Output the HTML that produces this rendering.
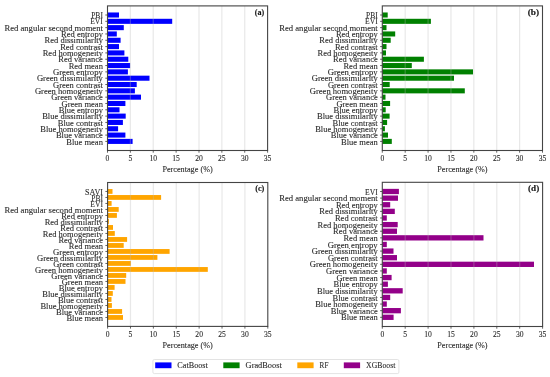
<!DOCTYPE html>
<html><head><meta charset="utf-8"><style>
html,body{margin:0;padding:0;background:#fff;}
svg{display:block;will-change:transform;}
text{font-family:"Liberation Serif",serif;fill:#2a2a2a;stroke:#2a2a2a;stroke-width:0.1px;}
.yl{font-size:8.5px;text-anchor:end;}
.xl{font-size:7.6px;text-anchor:middle;}
.xt{font-size:8.2px;text-anchor:middle;}
.tag{font-size:8.2px;font-weight:bold;text-anchor:end;fill:#111;stroke:#111;}
.lg{font-size:8.2px;}
</style></head><body>
<svg width="550" height="377" viewBox="0 0 550 377">
<rect width="550" height="377" fill="#fff"/>
<rect x="107.50" y="12.47" width="11.50" height="5.06" fill="#0000ff"/>
<rect x="107.50" y="18.79" width="64.70" height="5.06" fill="#0000ff"/>
<rect x="107.50" y="25.11" width="16.30" height="5.06" fill="#0000ff"/>
<rect x="107.50" y="31.43" width="9.30" height="5.06" fill="#0000ff"/>
<rect x="107.50" y="37.75" width="13.10" height="5.06" fill="#0000ff"/>
<rect x="107.50" y="44.07" width="11.50" height="5.06" fill="#0000ff"/>
<rect x="107.50" y="50.39" width="16.90" height="5.06" fill="#0000ff"/>
<rect x="107.50" y="56.71" width="20.80" height="5.06" fill="#0000ff"/>
<rect x="107.50" y="63.03" width="22.60" height="5.06" fill="#0000ff"/>
<rect x="107.50" y="69.35" width="20.40" height="5.06" fill="#0000ff"/>
<rect x="107.50" y="75.67" width="42.00" height="5.06" fill="#0000ff"/>
<rect x="107.50" y="81.99" width="29.20" height="5.06" fill="#0000ff"/>
<rect x="107.50" y="88.31" width="27.40" height="5.06" fill="#0000ff"/>
<rect x="107.50" y="94.63" width="33.50" height="5.06" fill="#0000ff"/>
<rect x="107.50" y="100.95" width="17.90" height="5.06" fill="#0000ff"/>
<rect x="107.50" y="107.27" width="12.00" height="5.06" fill="#0000ff"/>
<rect x="107.50" y="113.59" width="18.20" height="5.06" fill="#0000ff"/>
<rect x="107.50" y="119.91" width="15.40" height="5.06" fill="#0000ff"/>
<rect x="107.50" y="126.23" width="10.60" height="5.06" fill="#0000ff"/>
<rect x="107.50" y="132.55" width="17.90" height="5.06" fill="#0000ff"/>
<rect x="107.50" y="138.87" width="25.10" height="5.06" fill="#0000ff"/>
<line x1="130.37" y1="5.90" x2="130.37" y2="150.50" stroke="#b8b8b8" stroke-opacity="0.32" stroke-width="1.2"/>
<line x1="153.24" y1="5.90" x2="153.24" y2="150.50" stroke="#b8b8b8" stroke-opacity="0.32" stroke-width="1.2"/>
<line x1="176.11" y1="5.90" x2="176.11" y2="150.50" stroke="#b8b8b8" stroke-opacity="0.32" stroke-width="1.2"/>
<line x1="198.99" y1="5.90" x2="198.99" y2="150.50" stroke="#b8b8b8" stroke-opacity="0.32" stroke-width="1.2"/>
<line x1="221.86" y1="5.90" x2="221.86" y2="150.50" stroke="#b8b8b8" stroke-opacity="0.32" stroke-width="1.2"/>
<line x1="244.73" y1="5.90" x2="244.73" y2="150.50" stroke="#b8b8b8" stroke-opacity="0.32" stroke-width="1.2"/>
<rect x="107.50" y="5.90" width="160.10" height="144.60" fill="none" stroke="#444" stroke-width="1.1"/>
<line x1="105.30" y1="15.00" x2="107.50" y2="15.00" stroke="#3a3a3a" stroke-width="0.8"/>
<text x="102.90" y="18.10" class="yl" textLength="11.7" lengthAdjust="spacingAndGlyphs">PBI</text>
<line x1="105.30" y1="21.32" x2="107.50" y2="21.32" stroke="#3a3a3a" stroke-width="0.8"/>
<text x="102.90" y="24.42" class="yl" textLength="12.7" lengthAdjust="spacingAndGlyphs">EVI</text>
<line x1="105.30" y1="27.64" x2="107.50" y2="27.64" stroke="#3a3a3a" stroke-width="0.8"/>
<text x="102.90" y="30.74" class="yl" textLength="98.5" lengthAdjust="spacingAndGlyphs">Red angular second moment</text>
<line x1="105.30" y1="33.96" x2="107.50" y2="33.96" stroke="#3a3a3a" stroke-width="0.8"/>
<text x="102.90" y="37.06" class="yl">Red entropy</text>
<line x1="105.30" y1="40.28" x2="107.50" y2="40.28" stroke="#3a3a3a" stroke-width="0.8"/>
<text x="102.90" y="43.38" class="yl">Red dissimilarity</text>
<line x1="105.30" y1="46.60" x2="107.50" y2="46.60" stroke="#3a3a3a" stroke-width="0.8"/>
<text x="102.90" y="49.70" class="yl">Red contrast</text>
<line x1="105.30" y1="52.92" x2="107.50" y2="52.92" stroke="#3a3a3a" stroke-width="0.8"/>
<text x="102.90" y="56.02" class="yl">Red homogeneity</text>
<line x1="105.30" y1="59.24" x2="107.50" y2="59.24" stroke="#3a3a3a" stroke-width="0.8"/>
<text x="102.90" y="62.34" class="yl">Red variance</text>
<line x1="105.30" y1="65.56" x2="107.50" y2="65.56" stroke="#3a3a3a" stroke-width="0.8"/>
<text x="102.90" y="68.66" class="yl">Red mean</text>
<line x1="105.30" y1="71.88" x2="107.50" y2="71.88" stroke="#3a3a3a" stroke-width="0.8"/>
<text x="102.90" y="74.98" class="yl" textLength="50.0" lengthAdjust="spacingAndGlyphs">Green entropy</text>
<line x1="105.30" y1="78.20" x2="107.50" y2="78.20" stroke="#3a3a3a" stroke-width="0.8"/>
<text x="102.90" y="81.30" class="yl" textLength="66.0" lengthAdjust="spacingAndGlyphs">Green dissimilarity</text>
<line x1="105.30" y1="84.52" x2="107.50" y2="84.52" stroke="#3a3a3a" stroke-width="0.8"/>
<text x="102.90" y="87.62" class="yl">Green contrast</text>
<line x1="105.30" y1="90.84" x2="107.50" y2="90.84" stroke="#3a3a3a" stroke-width="0.8"/>
<text x="102.90" y="93.94" class="yl" textLength="68.0" lengthAdjust="spacingAndGlyphs">Green homogeneity</text>
<line x1="105.30" y1="97.16" x2="107.50" y2="97.16" stroke="#3a3a3a" stroke-width="0.8"/>
<text x="102.90" y="100.26" class="yl">Green variance</text>
<line x1="105.30" y1="103.48" x2="107.50" y2="103.48" stroke="#3a3a3a" stroke-width="0.8"/>
<text x="102.90" y="106.58" class="yl">Green mean</text>
<line x1="105.30" y1="109.80" x2="107.50" y2="109.80" stroke="#3a3a3a" stroke-width="0.8"/>
<text x="102.90" y="112.90" class="yl">Blue entropy</text>
<line x1="105.30" y1="116.12" x2="107.50" y2="116.12" stroke="#3a3a3a" stroke-width="0.8"/>
<text x="102.90" y="119.22" class="yl">Blue dissimilarity</text>
<line x1="105.30" y1="122.44" x2="107.50" y2="122.44" stroke="#3a3a3a" stroke-width="0.8"/>
<text x="102.90" y="125.54" class="yl">Blue contrast</text>
<line x1="105.30" y1="128.76" x2="107.50" y2="128.76" stroke="#3a3a3a" stroke-width="0.8"/>
<text x="102.90" y="131.86" class="yl">Blue homogeneity</text>
<line x1="105.30" y1="135.08" x2="107.50" y2="135.08" stroke="#3a3a3a" stroke-width="0.8"/>
<text x="102.90" y="138.18" class="yl">Blue variance</text>
<line x1="105.30" y1="141.40" x2="107.50" y2="141.40" stroke="#3a3a3a" stroke-width="0.8"/>
<text x="102.90" y="144.50" class="yl">Blue mean</text>
<line x1="107.50" y1="150.50" x2="107.50" y2="152.70" stroke="#3a3a3a" stroke-width="0.8"/>
<text x="107.50" y="161.10" class="xl">0</text>
<line x1="130.37" y1="150.50" x2="130.37" y2="152.70" stroke="#3a3a3a" stroke-width="0.8"/>
<text x="130.37" y="161.10" class="xl">5</text>
<line x1="153.24" y1="150.50" x2="153.24" y2="152.70" stroke="#3a3a3a" stroke-width="0.8"/>
<text x="153.24" y="161.10" class="xl">10</text>
<line x1="176.11" y1="150.50" x2="176.11" y2="152.70" stroke="#3a3a3a" stroke-width="0.8"/>
<text x="176.11" y="161.10" class="xl">15</text>
<line x1="198.99" y1="150.50" x2="198.99" y2="152.70" stroke="#3a3a3a" stroke-width="0.8"/>
<text x="198.99" y="161.10" class="xl">20</text>
<line x1="221.86" y1="150.50" x2="221.86" y2="152.70" stroke="#3a3a3a" stroke-width="0.8"/>
<text x="221.86" y="161.10" class="xl">25</text>
<line x1="244.73" y1="150.50" x2="244.73" y2="152.70" stroke="#3a3a3a" stroke-width="0.8"/>
<text x="244.73" y="161.10" class="xl">30</text>
<line x1="267.60" y1="150.50" x2="267.60" y2="152.70" stroke="#3a3a3a" stroke-width="0.8"/>
<text x="267.60" y="161.10" class="xl">35</text>
<text x="187.55" y="172.10" class="xt" textLength="50.3" lengthAdjust="spacingAndGlyphs">Percentage (%)</text>
<text x="264.20" y="14.50" class="tag" textLength="9.4" lengthAdjust="spacingAndGlyphs">(a)</text>
<rect x="382.30" y="12.47" width="5.40" height="5.06" fill="#008000"/>
<rect x="382.30" y="18.79" width="48.60" height="5.06" fill="#008000"/>
<rect x="382.30" y="25.11" width="4.20" height="5.06" fill="#008000"/>
<rect x="382.30" y="31.43" width="12.90" height="5.06" fill="#008000"/>
<rect x="382.30" y="37.75" width="8.40" height="5.06" fill="#008000"/>
<rect x="382.30" y="44.07" width="4.20" height="5.06" fill="#008000"/>
<rect x="382.30" y="50.39" width="3.70" height="5.06" fill="#008000"/>
<rect x="382.30" y="56.71" width="41.60" height="5.06" fill="#008000"/>
<rect x="382.30" y="63.03" width="29.50" height="5.06" fill="#008000"/>
<rect x="382.30" y="69.35" width="90.70" height="5.06" fill="#008000"/>
<rect x="382.30" y="75.67" width="71.70" height="5.06" fill="#008000"/>
<rect x="382.30" y="81.99" width="7.40" height="5.06" fill="#008000"/>
<rect x="382.30" y="88.31" width="82.50" height="5.06" fill="#008000"/>
<rect x="382.30" y="94.63" width="3.20" height="5.06" fill="#008000"/>
<rect x="382.30" y="100.95" width="7.80" height="5.06" fill="#008000"/>
<rect x="382.30" y="107.27" width="3.40" height="5.06" fill="#008000"/>
<rect x="382.30" y="113.59" width="7.30" height="5.06" fill="#008000"/>
<rect x="382.30" y="119.91" width="4.80" height="5.06" fill="#008000"/>
<rect x="382.30" y="126.23" width="2.60" height="5.06" fill="#008000"/>
<rect x="382.30" y="132.55" width="5.70" height="5.06" fill="#008000"/>
<rect x="382.30" y="138.87" width="9.50" height="5.06" fill="#008000"/>
<line x1="405.19" y1="5.90" x2="405.19" y2="150.50" stroke="#b8b8b8" stroke-opacity="0.32" stroke-width="1.2"/>
<line x1="428.07" y1="5.90" x2="428.07" y2="150.50" stroke="#b8b8b8" stroke-opacity="0.32" stroke-width="1.2"/>
<line x1="450.96" y1="5.90" x2="450.96" y2="150.50" stroke="#b8b8b8" stroke-opacity="0.32" stroke-width="1.2"/>
<line x1="473.84" y1="5.90" x2="473.84" y2="150.50" stroke="#b8b8b8" stroke-opacity="0.32" stroke-width="1.2"/>
<line x1="496.73" y1="5.90" x2="496.73" y2="150.50" stroke="#b8b8b8" stroke-opacity="0.32" stroke-width="1.2"/>
<line x1="519.61" y1="5.90" x2="519.61" y2="150.50" stroke="#b8b8b8" stroke-opacity="0.32" stroke-width="1.2"/>
<rect x="382.30" y="5.90" width="160.20" height="144.60" fill="none" stroke="#444" stroke-width="1.1"/>
<line x1="380.10" y1="15.00" x2="382.30" y2="15.00" stroke="#3a3a3a" stroke-width="0.8"/>
<text x="377.70" y="18.10" class="yl" textLength="11.7" lengthAdjust="spacingAndGlyphs">PBI</text>
<line x1="380.10" y1="21.32" x2="382.30" y2="21.32" stroke="#3a3a3a" stroke-width="0.8"/>
<text x="377.70" y="24.42" class="yl" textLength="12.7" lengthAdjust="spacingAndGlyphs">EVI</text>
<line x1="380.10" y1="27.64" x2="382.30" y2="27.64" stroke="#3a3a3a" stroke-width="0.8"/>
<text x="377.70" y="30.74" class="yl" textLength="98.5" lengthAdjust="spacingAndGlyphs">Red angular second moment</text>
<line x1="380.10" y1="33.96" x2="382.30" y2="33.96" stroke="#3a3a3a" stroke-width="0.8"/>
<text x="377.70" y="37.06" class="yl">Red entropy</text>
<line x1="380.10" y1="40.28" x2="382.30" y2="40.28" stroke="#3a3a3a" stroke-width="0.8"/>
<text x="377.70" y="43.38" class="yl">Red dissimilarity</text>
<line x1="380.10" y1="46.60" x2="382.30" y2="46.60" stroke="#3a3a3a" stroke-width="0.8"/>
<text x="377.70" y="49.70" class="yl">Red contrast</text>
<line x1="380.10" y1="52.92" x2="382.30" y2="52.92" stroke="#3a3a3a" stroke-width="0.8"/>
<text x="377.70" y="56.02" class="yl">Red homogeneity</text>
<line x1="380.10" y1="59.24" x2="382.30" y2="59.24" stroke="#3a3a3a" stroke-width="0.8"/>
<text x="377.70" y="62.34" class="yl">Red variance</text>
<line x1="380.10" y1="65.56" x2="382.30" y2="65.56" stroke="#3a3a3a" stroke-width="0.8"/>
<text x="377.70" y="68.66" class="yl">Red mean</text>
<line x1="380.10" y1="71.88" x2="382.30" y2="71.88" stroke="#3a3a3a" stroke-width="0.8"/>
<text x="377.70" y="74.98" class="yl" textLength="50.0" lengthAdjust="spacingAndGlyphs">Green entropy</text>
<line x1="380.10" y1="78.20" x2="382.30" y2="78.20" stroke="#3a3a3a" stroke-width="0.8"/>
<text x="377.70" y="81.30" class="yl" textLength="66.0" lengthAdjust="spacingAndGlyphs">Green dissimilarity</text>
<line x1="380.10" y1="84.52" x2="382.30" y2="84.52" stroke="#3a3a3a" stroke-width="0.8"/>
<text x="377.70" y="87.62" class="yl">Green contrast</text>
<line x1="380.10" y1="90.84" x2="382.30" y2="90.84" stroke="#3a3a3a" stroke-width="0.8"/>
<text x="377.70" y="93.94" class="yl" textLength="68.0" lengthAdjust="spacingAndGlyphs">Green homogeneity</text>
<line x1="380.10" y1="97.16" x2="382.30" y2="97.16" stroke="#3a3a3a" stroke-width="0.8"/>
<text x="377.70" y="100.26" class="yl">Green variance</text>
<line x1="380.10" y1="103.48" x2="382.30" y2="103.48" stroke="#3a3a3a" stroke-width="0.8"/>
<text x="377.70" y="106.58" class="yl">Green mean</text>
<line x1="380.10" y1="109.80" x2="382.30" y2="109.80" stroke="#3a3a3a" stroke-width="0.8"/>
<text x="377.70" y="112.90" class="yl">Blue entropy</text>
<line x1="380.10" y1="116.12" x2="382.30" y2="116.12" stroke="#3a3a3a" stroke-width="0.8"/>
<text x="377.70" y="119.22" class="yl">Blue dissimilarity</text>
<line x1="380.10" y1="122.44" x2="382.30" y2="122.44" stroke="#3a3a3a" stroke-width="0.8"/>
<text x="377.70" y="125.54" class="yl">Blue contrast</text>
<line x1="380.10" y1="128.76" x2="382.30" y2="128.76" stroke="#3a3a3a" stroke-width="0.8"/>
<text x="377.70" y="131.86" class="yl">Blue homogeneity</text>
<line x1="380.10" y1="135.08" x2="382.30" y2="135.08" stroke="#3a3a3a" stroke-width="0.8"/>
<text x="377.70" y="138.18" class="yl">Blue variance</text>
<line x1="380.10" y1="141.40" x2="382.30" y2="141.40" stroke="#3a3a3a" stroke-width="0.8"/>
<text x="377.70" y="144.50" class="yl">Blue mean</text>
<line x1="382.30" y1="150.50" x2="382.30" y2="152.70" stroke="#3a3a3a" stroke-width="0.8"/>
<text x="382.30" y="161.10" class="xl">0</text>
<line x1="405.19" y1="150.50" x2="405.19" y2="152.70" stroke="#3a3a3a" stroke-width="0.8"/>
<text x="405.19" y="161.10" class="xl">5</text>
<line x1="428.07" y1="150.50" x2="428.07" y2="152.70" stroke="#3a3a3a" stroke-width="0.8"/>
<text x="428.07" y="161.10" class="xl">10</text>
<line x1="450.96" y1="150.50" x2="450.96" y2="152.70" stroke="#3a3a3a" stroke-width="0.8"/>
<text x="450.96" y="161.10" class="xl">15</text>
<line x1="473.84" y1="150.50" x2="473.84" y2="152.70" stroke="#3a3a3a" stroke-width="0.8"/>
<text x="473.84" y="161.10" class="xl">20</text>
<line x1="496.73" y1="150.50" x2="496.73" y2="152.70" stroke="#3a3a3a" stroke-width="0.8"/>
<text x="496.73" y="161.10" class="xl">25</text>
<line x1="519.61" y1="150.50" x2="519.61" y2="152.70" stroke="#3a3a3a" stroke-width="0.8"/>
<text x="519.61" y="161.10" class="xl">30</text>
<line x1="542.50" y1="150.50" x2="542.50" y2="152.70" stroke="#3a3a3a" stroke-width="0.8"/>
<text x="542.50" y="161.10" class="xl">35</text>
<text x="462.40" y="172.10" class="xt" textLength="50.3" lengthAdjust="spacingAndGlyphs">Percentage (%)</text>
<text x="539.10" y="14.50" class="tag" textLength="11.4" lengthAdjust="spacingAndGlyphs">(b)</text>
<rect x="107.60" y="189.04" width="4.90" height="4.80" fill="#ffa500"/>
<rect x="107.60" y="195.04" width="53.50" height="4.80" fill="#ffa500"/>
<rect x="107.60" y="201.04" width="4.00" height="4.80" fill="#ffa500"/>
<rect x="107.60" y="207.04" width="11.10" height="4.80" fill="#ffa500"/>
<rect x="107.60" y="213.04" width="9.30" height="4.80" fill="#ffa500"/>
<rect x="107.60" y="219.05" width="1.30" height="4.80" fill="#ffa500"/>
<rect x="107.60" y="225.05" width="5.40" height="4.80" fill="#ffa500"/>
<rect x="107.60" y="231.05" width="7.20" height="4.80" fill="#ffa500"/>
<rect x="107.60" y="237.05" width="19.50" height="4.80" fill="#ffa500"/>
<rect x="107.60" y="243.05" width="16.10" height="4.80" fill="#ffa500"/>
<rect x="107.60" y="249.05" width="62.00" height="4.80" fill="#ffa500"/>
<rect x="107.60" y="255.05" width="49.80" height="4.80" fill="#ffa500"/>
<rect x="107.60" y="261.05" width="23.30" height="4.80" fill="#ffa500"/>
<rect x="107.60" y="267.05" width="100.20" height="4.80" fill="#ffa500"/>
<rect x="107.60" y="273.05" width="18.60" height="4.80" fill="#ffa500"/>
<rect x="107.60" y="279.05" width="17.90" height="4.80" fill="#ffa500"/>
<rect x="107.60" y="285.05" width="7.00" height="4.80" fill="#ffa500"/>
<rect x="107.60" y="291.06" width="5.20" height="4.80" fill="#ffa500"/>
<rect x="107.60" y="297.06" width="3.90" height="4.80" fill="#ffa500"/>
<rect x="107.60" y="303.06" width="4.30" height="4.80" fill="#ffa500"/>
<rect x="107.60" y="309.06" width="14.50" height="4.80" fill="#ffa500"/>
<rect x="107.60" y="315.06" width="15.40" height="4.80" fill="#ffa500"/>
<line x1="130.49" y1="182.50" x2="130.49" y2="326.40" stroke="#b8b8b8" stroke-opacity="0.32" stroke-width="1.2"/>
<line x1="153.37" y1="182.50" x2="153.37" y2="326.40" stroke="#b8b8b8" stroke-opacity="0.32" stroke-width="1.2"/>
<line x1="176.26" y1="182.50" x2="176.26" y2="326.40" stroke="#b8b8b8" stroke-opacity="0.32" stroke-width="1.2"/>
<line x1="199.14" y1="182.50" x2="199.14" y2="326.40" stroke="#b8b8b8" stroke-opacity="0.32" stroke-width="1.2"/>
<line x1="222.03" y1="182.50" x2="222.03" y2="326.40" stroke="#b8b8b8" stroke-opacity="0.32" stroke-width="1.2"/>
<line x1="244.91" y1="182.50" x2="244.91" y2="326.40" stroke="#b8b8b8" stroke-opacity="0.32" stroke-width="1.2"/>
<rect x="107.60" y="182.50" width="160.20" height="143.90" fill="none" stroke="#444" stroke-width="1.1"/>
<line x1="105.40" y1="191.44" x2="107.60" y2="191.44" stroke="#3a3a3a" stroke-width="0.8"/>
<text x="103.00" y="194.54" class="yl" textLength="18.0" lengthAdjust="spacingAndGlyphs">SAVI</text>
<line x1="105.40" y1="197.44" x2="107.60" y2="197.44" stroke="#3a3a3a" stroke-width="0.8"/>
<text x="103.00" y="200.54" class="yl" textLength="11.7" lengthAdjust="spacingAndGlyphs">PBI</text>
<line x1="105.40" y1="203.44" x2="107.60" y2="203.44" stroke="#3a3a3a" stroke-width="0.8"/>
<text x="103.00" y="206.54" class="yl" textLength="12.7" lengthAdjust="spacingAndGlyphs">EVI</text>
<line x1="105.40" y1="209.44" x2="107.60" y2="209.44" stroke="#3a3a3a" stroke-width="0.8"/>
<text x="103.00" y="212.54" class="yl" textLength="98.5" lengthAdjust="spacingAndGlyphs">Red angular second moment</text>
<line x1="105.40" y1="215.44" x2="107.60" y2="215.44" stroke="#3a3a3a" stroke-width="0.8"/>
<text x="103.00" y="218.54" class="yl">Red entropy</text>
<line x1="105.40" y1="221.45" x2="107.60" y2="221.45" stroke="#3a3a3a" stroke-width="0.8"/>
<text x="103.00" y="224.55" class="yl">Red dissimilarity</text>
<line x1="105.40" y1="227.45" x2="107.60" y2="227.45" stroke="#3a3a3a" stroke-width="0.8"/>
<text x="103.00" y="230.55" class="yl">Red contrast</text>
<line x1="105.40" y1="233.45" x2="107.60" y2="233.45" stroke="#3a3a3a" stroke-width="0.8"/>
<text x="103.00" y="236.55" class="yl">Red homogeneity</text>
<line x1="105.40" y1="239.45" x2="107.60" y2="239.45" stroke="#3a3a3a" stroke-width="0.8"/>
<text x="103.00" y="242.55" class="yl">Red variance</text>
<line x1="105.40" y1="245.45" x2="107.60" y2="245.45" stroke="#3a3a3a" stroke-width="0.8"/>
<text x="103.00" y="248.55" class="yl">Red mean</text>
<line x1="105.40" y1="251.45" x2="107.60" y2="251.45" stroke="#3a3a3a" stroke-width="0.8"/>
<text x="103.00" y="254.55" class="yl" textLength="50.0" lengthAdjust="spacingAndGlyphs">Green entropy</text>
<line x1="105.40" y1="257.45" x2="107.60" y2="257.45" stroke="#3a3a3a" stroke-width="0.8"/>
<text x="103.00" y="260.55" class="yl" textLength="66.0" lengthAdjust="spacingAndGlyphs">Green dissimilarity</text>
<line x1="105.40" y1="263.45" x2="107.60" y2="263.45" stroke="#3a3a3a" stroke-width="0.8"/>
<text x="103.00" y="266.55" class="yl">Green contrast</text>
<line x1="105.40" y1="269.45" x2="107.60" y2="269.45" stroke="#3a3a3a" stroke-width="0.8"/>
<text x="103.00" y="272.55" class="yl" textLength="68.0" lengthAdjust="spacingAndGlyphs">Green homogeneity</text>
<line x1="105.40" y1="275.45" x2="107.60" y2="275.45" stroke="#3a3a3a" stroke-width="0.8"/>
<text x="103.00" y="278.55" class="yl">Green variance</text>
<line x1="105.40" y1="281.45" x2="107.60" y2="281.45" stroke="#3a3a3a" stroke-width="0.8"/>
<text x="103.00" y="284.55" class="yl">Green mean</text>
<line x1="105.40" y1="287.45" x2="107.60" y2="287.45" stroke="#3a3a3a" stroke-width="0.8"/>
<text x="103.00" y="290.55" class="yl">Blue entropy</text>
<line x1="105.40" y1="293.46" x2="107.60" y2="293.46" stroke="#3a3a3a" stroke-width="0.8"/>
<text x="103.00" y="296.56" class="yl">Blue dissimilarity</text>
<line x1="105.40" y1="299.46" x2="107.60" y2="299.46" stroke="#3a3a3a" stroke-width="0.8"/>
<text x="103.00" y="302.56" class="yl">Blue contrast</text>
<line x1="105.40" y1="305.46" x2="107.60" y2="305.46" stroke="#3a3a3a" stroke-width="0.8"/>
<text x="103.00" y="308.56" class="yl">Blue homogeneity</text>
<line x1="105.40" y1="311.46" x2="107.60" y2="311.46" stroke="#3a3a3a" stroke-width="0.8"/>
<text x="103.00" y="314.56" class="yl">Blue variance</text>
<line x1="105.40" y1="317.46" x2="107.60" y2="317.46" stroke="#3a3a3a" stroke-width="0.8"/>
<text x="103.00" y="320.56" class="yl">Blue mean</text>
<line x1="107.60" y1="326.40" x2="107.60" y2="328.60" stroke="#3a3a3a" stroke-width="0.8"/>
<text x="107.60" y="337.00" class="xl">0</text>
<line x1="130.49" y1="326.40" x2="130.49" y2="328.60" stroke="#3a3a3a" stroke-width="0.8"/>
<text x="130.49" y="337.00" class="xl">5</text>
<line x1="153.37" y1="326.40" x2="153.37" y2="328.60" stroke="#3a3a3a" stroke-width="0.8"/>
<text x="153.37" y="337.00" class="xl">10</text>
<line x1="176.26" y1="326.40" x2="176.26" y2="328.60" stroke="#3a3a3a" stroke-width="0.8"/>
<text x="176.26" y="337.00" class="xl">15</text>
<line x1="199.14" y1="326.40" x2="199.14" y2="328.60" stroke="#3a3a3a" stroke-width="0.8"/>
<text x="199.14" y="337.00" class="xl">20</text>
<line x1="222.03" y1="326.40" x2="222.03" y2="328.60" stroke="#3a3a3a" stroke-width="0.8"/>
<text x="222.03" y="337.00" class="xl">25</text>
<line x1="244.91" y1="326.40" x2="244.91" y2="328.60" stroke="#3a3a3a" stroke-width="0.8"/>
<text x="244.91" y="337.00" class="xl">30</text>
<line x1="267.80" y1="326.40" x2="267.80" y2="328.60" stroke="#3a3a3a" stroke-width="0.8"/>
<text x="267.80" y="337.00" class="xl">35</text>
<text x="187.70" y="348.00" class="xt" textLength="50.3" lengthAdjust="spacingAndGlyphs">Percentage (%)</text>
<text x="264.40" y="191.10" class="tag" textLength="9.2" lengthAdjust="spacingAndGlyphs">(c)</text>
<rect x="382.30" y="188.85" width="16.60" height="5.30" fill="#930089"/>
<rect x="382.30" y="195.48" width="15.70" height="5.30" fill="#930089"/>
<rect x="382.30" y="202.10" width="7.90" height="5.30" fill="#930089"/>
<rect x="382.30" y="208.72" width="12.50" height="5.30" fill="#930089"/>
<rect x="382.30" y="215.34" width="4.50" height="5.30" fill="#930089"/>
<rect x="382.30" y="221.96" width="15.40" height="5.30" fill="#930089"/>
<rect x="382.30" y="228.58" width="14.70" height="5.30" fill="#930089"/>
<rect x="382.30" y="235.20" width="101.20" height="5.30" fill="#930089"/>
<rect x="382.30" y="241.82" width="4.50" height="5.30" fill="#930089"/>
<rect x="382.30" y="248.44" width="11.20" height="5.30" fill="#930089"/>
<rect x="382.30" y="255.06" width="14.70" height="5.30" fill="#930089"/>
<rect x="382.30" y="261.68" width="151.70" height="5.30" fill="#930089"/>
<rect x="382.30" y="268.30" width="4.50" height="5.30" fill="#930089"/>
<rect x="382.30" y="274.92" width="9.30" height="5.30" fill="#930089"/>
<rect x="382.30" y="281.55" width="5.60" height="5.30" fill="#930089"/>
<rect x="382.30" y="288.17" width="20.40" height="5.30" fill="#930089"/>
<rect x="382.30" y="294.79" width="7.90" height="5.30" fill="#930089"/>
<rect x="382.30" y="301.41" width="4.50" height="5.30" fill="#930089"/>
<rect x="382.30" y="308.03" width="18.60" height="5.30" fill="#930089"/>
<rect x="382.30" y="314.65" width="11.30" height="5.30" fill="#930089"/>
<line x1="405.20" y1="182.30" x2="405.20" y2="326.50" stroke="#b8b8b8" stroke-opacity="0.32" stroke-width="1.2"/>
<line x1="428.10" y1="182.30" x2="428.10" y2="326.50" stroke="#b8b8b8" stroke-opacity="0.32" stroke-width="1.2"/>
<line x1="451.00" y1="182.30" x2="451.00" y2="326.50" stroke="#b8b8b8" stroke-opacity="0.32" stroke-width="1.2"/>
<line x1="473.90" y1="182.30" x2="473.90" y2="326.50" stroke="#b8b8b8" stroke-opacity="0.32" stroke-width="1.2"/>
<line x1="496.80" y1="182.30" x2="496.80" y2="326.50" stroke="#b8b8b8" stroke-opacity="0.32" stroke-width="1.2"/>
<line x1="519.70" y1="182.30" x2="519.70" y2="326.50" stroke="#b8b8b8" stroke-opacity="0.32" stroke-width="1.2"/>
<rect x="382.30" y="182.30" width="160.30" height="144.20" fill="none" stroke="#444" stroke-width="1.1"/>
<line x1="380.10" y1="191.50" x2="382.30" y2="191.50" stroke="#3a3a3a" stroke-width="0.8"/>
<text x="377.70" y="194.60" class="yl" textLength="12.7" lengthAdjust="spacingAndGlyphs">EVI</text>
<line x1="380.10" y1="198.12" x2="382.30" y2="198.12" stroke="#3a3a3a" stroke-width="0.8"/>
<text x="377.70" y="201.22" class="yl" textLength="98.5" lengthAdjust="spacingAndGlyphs">Red angular second moment</text>
<line x1="380.10" y1="204.74" x2="382.30" y2="204.74" stroke="#3a3a3a" stroke-width="0.8"/>
<text x="377.70" y="207.84" class="yl">Red entropy</text>
<line x1="380.10" y1="211.37" x2="382.30" y2="211.37" stroke="#3a3a3a" stroke-width="0.8"/>
<text x="377.70" y="214.47" class="yl">Red dissimilarity</text>
<line x1="380.10" y1="217.99" x2="382.30" y2="217.99" stroke="#3a3a3a" stroke-width="0.8"/>
<text x="377.70" y="221.09" class="yl">Red contrast</text>
<line x1="380.10" y1="224.61" x2="382.30" y2="224.61" stroke="#3a3a3a" stroke-width="0.8"/>
<text x="377.70" y="227.71" class="yl">Red homogeneity</text>
<line x1="380.10" y1="231.23" x2="382.30" y2="231.23" stroke="#3a3a3a" stroke-width="0.8"/>
<text x="377.70" y="234.33" class="yl">Red variance</text>
<line x1="380.10" y1="237.85" x2="382.30" y2="237.85" stroke="#3a3a3a" stroke-width="0.8"/>
<text x="377.70" y="240.95" class="yl">Red mean</text>
<line x1="380.10" y1="244.47" x2="382.30" y2="244.47" stroke="#3a3a3a" stroke-width="0.8"/>
<text x="377.70" y="247.57" class="yl" textLength="50.0" lengthAdjust="spacingAndGlyphs">Green entropy</text>
<line x1="380.10" y1="251.09" x2="382.30" y2="251.09" stroke="#3a3a3a" stroke-width="0.8"/>
<text x="377.70" y="254.19" class="yl" textLength="66.0" lengthAdjust="spacingAndGlyphs">Green dissimilarity</text>
<line x1="380.10" y1="257.71" x2="382.30" y2="257.71" stroke="#3a3a3a" stroke-width="0.8"/>
<text x="377.70" y="260.81" class="yl">Green contrast</text>
<line x1="380.10" y1="264.33" x2="382.30" y2="264.33" stroke="#3a3a3a" stroke-width="0.8"/>
<text x="377.70" y="267.43" class="yl" textLength="68.0" lengthAdjust="spacingAndGlyphs">Green homogeneity</text>
<line x1="380.10" y1="270.95" x2="382.30" y2="270.95" stroke="#3a3a3a" stroke-width="0.8"/>
<text x="377.70" y="274.05" class="yl">Green variance</text>
<line x1="380.10" y1="277.57" x2="382.30" y2="277.57" stroke="#3a3a3a" stroke-width="0.8"/>
<text x="377.70" y="280.67" class="yl">Green mean</text>
<line x1="380.10" y1="284.19" x2="382.30" y2="284.19" stroke="#3a3a3a" stroke-width="0.8"/>
<text x="377.70" y="287.29" class="yl">Blue entropy</text>
<line x1="380.10" y1="290.81" x2="382.30" y2="290.81" stroke="#3a3a3a" stroke-width="0.8"/>
<text x="377.70" y="293.91" class="yl">Blue dissimilarity</text>
<line x1="380.10" y1="297.43" x2="382.30" y2="297.43" stroke="#3a3a3a" stroke-width="0.8"/>
<text x="377.70" y="300.53" class="yl">Blue contrast</text>
<line x1="380.10" y1="304.06" x2="382.30" y2="304.06" stroke="#3a3a3a" stroke-width="0.8"/>
<text x="377.70" y="307.16" class="yl">Blue homogeneity</text>
<line x1="380.10" y1="310.68" x2="382.30" y2="310.68" stroke="#3a3a3a" stroke-width="0.8"/>
<text x="377.70" y="313.78" class="yl">Blue variance</text>
<line x1="380.10" y1="317.30" x2="382.30" y2="317.30" stroke="#3a3a3a" stroke-width="0.8"/>
<text x="377.70" y="320.40" class="yl">Blue mean</text>
<line x1="382.30" y1="326.50" x2="382.30" y2="328.70" stroke="#3a3a3a" stroke-width="0.8"/>
<text x="382.30" y="337.10" class="xl">0</text>
<line x1="405.20" y1="326.50" x2="405.20" y2="328.70" stroke="#3a3a3a" stroke-width="0.8"/>
<text x="405.20" y="337.10" class="xl">5</text>
<line x1="428.10" y1="326.50" x2="428.10" y2="328.70" stroke="#3a3a3a" stroke-width="0.8"/>
<text x="428.10" y="337.10" class="xl">10</text>
<line x1="451.00" y1="326.50" x2="451.00" y2="328.70" stroke="#3a3a3a" stroke-width="0.8"/>
<text x="451.00" y="337.10" class="xl">15</text>
<line x1="473.90" y1="326.50" x2="473.90" y2="328.70" stroke="#3a3a3a" stroke-width="0.8"/>
<text x="473.90" y="337.10" class="xl">20</text>
<line x1="496.80" y1="326.50" x2="496.80" y2="328.70" stroke="#3a3a3a" stroke-width="0.8"/>
<text x="496.80" y="337.10" class="xl">25</text>
<line x1="519.70" y1="326.50" x2="519.70" y2="328.70" stroke="#3a3a3a" stroke-width="0.8"/>
<text x="519.70" y="337.10" class="xl">30</text>
<line x1="542.60" y1="326.50" x2="542.60" y2="328.70" stroke="#3a3a3a" stroke-width="0.8"/>
<text x="542.60" y="337.10" class="xl">35</text>
<text x="462.45" y="348.10" class="xt" textLength="50.3" lengthAdjust="spacingAndGlyphs">Percentage (%)</text>
<text x="539.20" y="190.90" class="tag" textLength="11.2" lengthAdjust="spacingAndGlyphs">(d)</text>
<rect x="152.9" y="359.5" width="246.0" height="14.1" rx="1.5" fill="#fff" stroke="#dcdcdc" stroke-width="0.8"/>
<rect x="155.2" y="362.4" width="16.3" height="5.8" fill="#0000ff"/>
<text x="177.3" y="368.3" class="lg" textLength="30.5" lengthAdjust="spacingAndGlyphs">CatBoost</text>
<rect x="223.3" y="362.4" width="16.3" height="5.8" fill="#008000"/>
<text x="245.6" y="368.3" class="lg" textLength="36.2" lengthAdjust="spacingAndGlyphs">GradBoost</text>
<rect x="297.3" y="362.4" width="16.3" height="5.8" fill="#ffa500"/>
<text x="319.6" y="368.3" class="lg" textLength="8.8" lengthAdjust="spacingAndGlyphs">RF</text>
<rect x="343.8" y="362.4" width="16.3" height="5.8" fill="#930089"/>
<text x="366.1" y="368.3" class="lg" textLength="29.2" lengthAdjust="spacingAndGlyphs">XGBoost</text>
</svg>
</body></html>
